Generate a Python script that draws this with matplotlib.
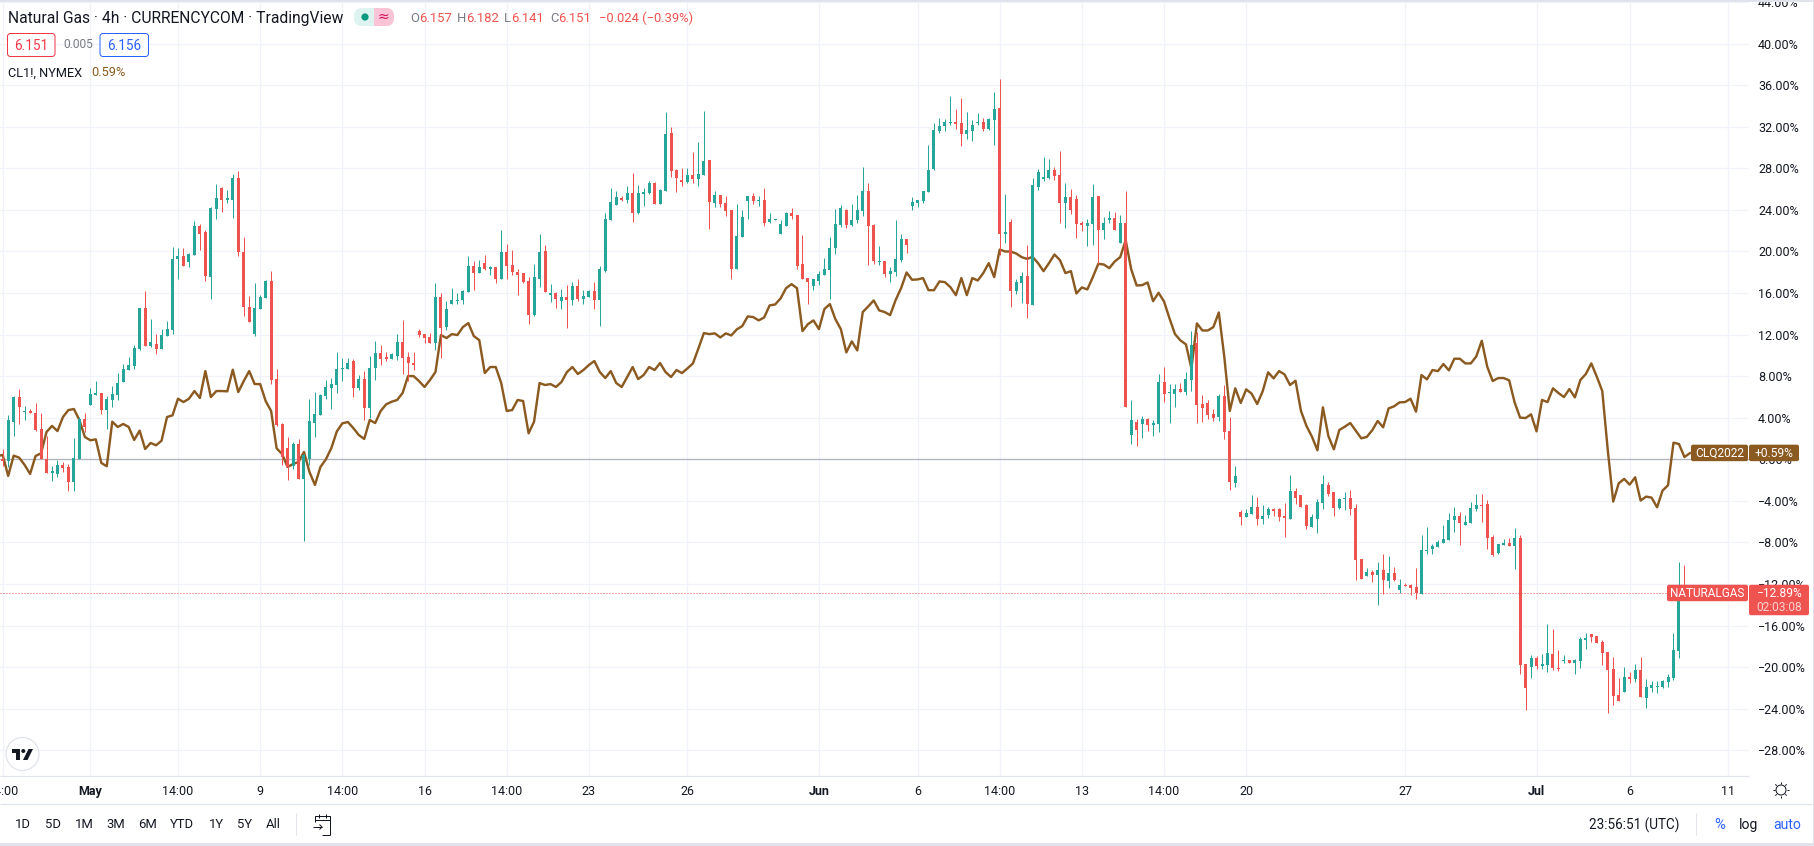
import numpy as np
import matplotlib
matplotlib.use("Agg")
import matplotlib.pyplot as plt
from matplotlib.patches import Rectangle, FancyBboxPatch, Circle, Polygon

# ---------- data (percent change) ----------
direction = ("RGGRGRRRRG" "GRRGGRGGRG" "GGGGGGRGRG" "GGGRGGRRGG" "RGGRRRGGGR"
             "RRRGRGGGGG" "GGGGRGRGGR" "RGGRRRRRRG" "RGGGGGRGRG" "RGRRRRRGGR"
             "GRGRGRGGRG" "GGGRGRGGGR" "GGRRRGRGGR" "GRRRGGGRGR" "GGGGRRRRGG"
             "GGGGRGGGRR" "GRGGGRGGGG" "GGGGRRGGGR" "GGRGRGGRGG" "GGRRGRRRGG"
             "RGGRGRGRGR" "GGRGGRGGRR" "RRGRRGRGGR" "GGRRRGRRRG" "GGRRGGRRRG"
             "RGRGRGRRRG" "GGGGGGRGGG" "RRRGGRGRRG" "RGGRRGRGGG" "RRRRRRGRGR"
             "GGGGGGGR")
body_top = [.03,3.78,5.99,5.99,4.65,4.65,4.46,2.92,.03,-1.12,
 -.54,-.54,-.74,.10,3.88,3.88,6.28,6.38,6.38,5.80,
 6.28,7.34,8.69,9.07,10.71,14.55,14.55,11.28,11.09,11.96,
 12.53,19.26,19.55,19.55,19.74,22.44,22.44,21.86,24.17,25.13,
 26.09,25.13,27.05,27.05,19.94,14.65,14.55,15.61,17.15,17.15,
 7.72,3.40,1.09,1.47,1.47,.42,3.69,4.36,6.19,6.96,
 7.24,8.69,8.78,9.26,9.46,7.72,7.72,8.78,10.22,10.22,
 9.84,10.13,11.28,11.28,9.84,9.26,12.34,12.05,11.76,15.61,
 15.61,14.46,15.32,15.32,16.19,18.59,18.59,18.49,18.88,18.49,
 18.49,19.94,19.94,18.69,18.01,17.92,17.15,17.53,19.94,20.03,
 15.99,15.99,15.61,15.61,16.67,16.67,15.71,16.19,16.19,18.30,
 23.11,24.74,25.22,25.13,25.61,25.61,25.61,25.71,26.57,26.57,
 25.90,31.28,31.38,27.82,26.86,27.34,27.34,27.44,28.69,28.78,
 25.42,25.42,24.65,23.97,21.47,23.30,25.32,25.32,24.94,24.94,
 23.11,23.11,22.63,23.69,23.69,23.49,18.78,17.44,17.34,17.82,
 18.30,20.32,22.63,24.17,23.97,23.01,23.97,25.80,25.80,22.53,
 19.07,19.07,18.11,19.26,21.19,21.19,24.74,24.94,25.80,27.82,
 31.67,32.05,32.44,32.44,32.44,32.34,31.67,32.15,32.44,32.44,
 32.72,33.69,33.78,21.86,22.82,17.05,17.63,17.63,26.38,27.63,
 27.15,27.82,27.82,27.34,25.22,25.22,25.03,22.72,22.72,25.22,
 25.32,22.72,23.21,23.21,22.72,22.72,3.78,3.59,3.88,3.88,
 3.49,7.44,7.44,6.47,6.76,6.76,7.72,10.99,11.19,5.32,
 5.42,4.36,6.09,6.09,2.72,-1.60,-5.06,-5.16,-4.58,-4.58,
 -5.45,-4.78,-4.78,-4.78,-5.45,-3.04,-3.04,-3.43,-4.39,-5.54,
 -4.10,-2.37,-2.47,-3.14,-3.81,-3.72,-3.72,-4.68,-9.58,-10.83,
 -10.83,-10.64,-10.64,-10.93,-10.93,-12.08,-12.08,-12.08,-12.28,-8.72,
 -8.72,-8.33,-7.95,-7.66,-5.83,-5.45,-5.45,-6.03,-4.68,-4.39,
 -4.39,-4.29,-7.47,-8.14,-8.08,-8.04,-7.56,-7.56,-19.68,-19.10,
 -19.10,-19.68,-18.62,-18.72,-20.06,-19.29,-19.29,-19.29,-17.28,-17.18,
 -16.79,-16.99,-17.56,-18.53,-20.16,-22.66,-20.93,-20.93,-20.26,-20.26,
 -21.89,-21.70,-21.79,-21.31,-20.93,-18.33,-12.60,-12.80]
body_bot = [-.16,-.16,3.62,5.06,4.58,4.49,2.82,0,-1.28,-1.28,
 -1.38,-.83,-2.15,-2.15,.03,3.14,5.22,6.19,4.74,4.74,
 5.71,6.19,7.44,8.59,8.97,10.61,10.90,10.90,10.61,10.61,
 11.86,12.44,19.26,18.59,18.97,19.65,21.67,17.63,17.53,24.07,
 24.94,24.94,24.94,19.94,14.65,13.21,12.05,14.46,15.51,7.63,
 3.30,.22,-.74,-.64,-1.89,-1.89,.03,3.49,4.26,6.09,
 6.86,7.15,8.72,8.69,6.86,6.86,4.94,4.94,8.78,9.65,
 9.65,9.65,9.94,9.74,9.26,9.07,11.96,11.67,11.19,11.19,
 12.63,12.72,14.94,15.22,15.32,16.09,17.92,17.92,18.30,18.30,
 17.34,17.34,18.59,18.01,17.72,17.05,13.88,13.88,17.34,16.09,
 15.80,15.42,15.22,15.32,15.32,15.42,15.42,15.61,15.32,15.32,
 18.11,23.01,24.46,24.94,24.94,23.69,23.69,25.51,25.61,24.55,
 24.55,25.80,27.72,27.05,26.70,26.67,26.96,26.96,27.34,24.74,
 24.65,24.55,23.88,18.30,18.30,21.38,24.84,24.84,24.84,22.72,
 22.82,23.04,21.67,22.44,23.40,18.59,17.34,17.05,16.67,17.15,
 17.72,18.21,20.32,22.53,22.53,22.53,23.01,23.88,22.44,19.07,
 18.97,17.82,17.82,18.01,19.17,20.61,24.36,24.65,24.84,25.71,
 27.92,31.57,32.05,32.34,32.24,31.28,31.28,31.57,32.34,31.76,
 31.76,32.63,21.67,21.67,16.19,16.19,16.96,14.94,14.84,26.19,
 26.96,27.05,27.24,24.65,24.65,23.97,22.63,22.53,22.44,22.63,
 22.05,22.05,23.01,22.05,20.80,5.03,2.34,2.82,3.40,3.30,
 3.30,3.40,6.28,6.38,6.28,6.47,6.47,7.63,5.22,4.94,
 4.26,3.97,4.07,2.63,-2.18,-2.28,-5.54,-5.54,-5.26,-5.74,
 -5.74,-5.35,-4.97,-5.54,-5.64,-5.74,-3.72,-4.58,-6.41,-6.51,
 -5.74,-4.20,-3.33,-4.68,-4.68,-3.81,-4.78,-9.68,-11.51,-11.22,
 -11.12,-11.12,-11.60,-11.70,-11.60,-12.56,-12.18,-12.37,-12.85,-12.95,
 -8.81,-8.62,-8.43,-8.04,-7.76,-5.83,-6.12,-6.31,-6.12,-4.78,
 -4.49,-7.56,-9.20,-9.01,-8.24,-8.33,-8.33,-19.78,-21.99,-19.97,
 -19.87,-19.87,-19.78,-20.06,-20.16,-19.39,-19.58,-19.58,-19.39,-17.37,
 -17.08,-17.66,-18.62,-20.26,-22.76,-23.24,-22.37,-21.12,-21.12,-22.85,
 -22.95,-21.99,-21.89,-21.89,-21.41,-21.03,-18.43,-12.89]
wick_high = [.99,4.26,6.09,6.76,5.13,4.84,5.42,4.46,2.24,-.64,
 -.06,-.29,-.45,2.05,4.10,4.46,6.86,7.53,6.38,6.09,
 7.05,8.30,9.17,9.84,10.99,14.55,16.19,13.49,12.05,12.53,
 13.30,20.42,20.32,20.32,19.84,22.92,22.63,22.05,24.26,26.47,
 26.19,25.90,27.44,27.72,21.38,15.71,16.96,15.80,17.24,18.11,
 8.69,3.49,2.15,1.67,1.96,.51,5.80,6.47,6.28,7.63,
 7.82,10.32,9.74,9.74,9.65,8.11,8.49,9.94,11.38,10.99,
 10.32,10.22,12.05,13.40,10.32,10.32,12.53,12.05,12.15,16.96,
 15.99,15.22,16.47,15.99,16.28,19.55,19.07,19.17,19.65,18.59,
 18.49,22.05,20.71,20.13,18.30,17.92,17.53,18.78,21.67,20.61,
 16.86,16.09,16.38,16.76,17.05,17.34,16.28,16.28,17.05,18.59,
 23.69,26.09,25.80,25.32,26.28,27.53,26.38,26.09,26.76,26.67,
 25.99,33.40,31.96,27.92,28.01,28.01,29.55,30.51,33.49,28.78,
 25.80,25.42,25.32,23.97,24.55,23.97,25.32,25.61,25.32,26.09,
 23.69,23.11,23.01,23.78,24.17,23.49,21.57,17.44,17.34,18.11,
 19.36,21.38,24.07,24.46,24.07,24.55,25.42,28.11,26.57,22.63,
 20.51,19.07,18.49,23.01,21.67,21.19,25.22,24.94,25.80,30.22,
 32.34,32.82,32.72,34.94,33.69,34.74,33.40,32.63,33.30,32.82,
 32.82,35.32,36.57,25.51,23.11,17.34,18.01,20.61,27.05,27.92,
 29.07,28.88,28.11,29.65,26.57,25.99,25.42,22.92,23.11,26.47,
 25.32,23.30,23.88,23.78,23.49,25.80,5.71,3.88,4.17,3.97,
 3.78,8.21,8.88,7.24,7.24,7.34,8.40,12.34,12.24,6.19,
 5.71,4.84,6.28,7.15,4.07,-.64,-4.87,-4.78,-3.43,-3.62,
 -4.39,-4.58,-4.68,-4.68,-4.20,-1.51,-2.76,-3.43,-4.29,-5.26,
 -3.81,-1.51,-2.18,-3.14,-3.72,-3.14,-2.95,-4.29,-9.58,-10.45,
 -10.64,-9.87,-9.10,-9.29,-10.35,-11.51,-11.89,-11.99,-10.45,-7.28,
 -6.51,-8.14,-7.76,-6.31,-5.16,-4.58,-5.06,-5.35,-4.10,-3.33,
 -3.33,-3.91,-7.28,-8.14,-7.66,-7.56,-6.60,-7.28,-19.68,-18.81,
 -18.91,-18.72,-15.83,-16.31,-18.33,-18.81,-19.29,-19.20,-17.08,-16.70,
 -16.79,-16.99,-17.37,-18.53,-19.01,-21.03,-19.97,-20.45,-19.68,-19.01,
 -21.12,-21.31,-21.31,-21.22,-20.64,-16.70,-9.87,-10.16]
wick_low = [-.64,-.71,2.28,3.40,3.78,4.42,2.76,0,-1.28,-2.05,
 -1.67,-1.22,-3.04,-3.04,0,2.66,5.22,6.19,4.36,2.92,
 5.03,5.71,7.44,8.59,8.69,10.51,10.90,10.80,10.13,10.61,
 11.86,12.05,17.34,18.59,18.49,19.65,20.13,17.15,15.42,23.11,
 23.78,24.65,23.21,19.55,13.78,13.21,11.86,14.46,15.51,7.24,
 3.21,-.54,-1.99,-.93,-1.89,-7.85,-.54,2.15,4.26,5.80,
 4.84,6.38,7.53,8.69,5.99,6.67,3.78,3.97,7.63,9.07,
 9.46,9.65,9.55,8.21,7.53,8.59,11.76,11.19,11.19,10.51,
 9.74,12.44,14.94,14.94,14.94,16.09,16.28,17.92,18.21,17.72,
 16.96,17.34,17.34,17.72,15.80,16.96,13.01,13.78,16.57,16.09,
 15.13,14.55,14.46,12.63,14.84,15.22,14.94,15.61,14.46,12.82,
 18.01,23.01,24.46,24.84,24.65,22.82,23.59,24.36,25.51,24.55,
 24.55,25.80,27.15,25.71,26.28,26.57,26.57,26.28,27.34,22.15,
 24.26,24.26,23.40,17.34,18.30,21.38,23.11,24.55,24.36,22.44,
 22.72,23.01,21.67,22.44,23.11,18.30,17.34,14.94,16.28,16.76,
 17.72,15.42,19.74,22.34,22.24,22.44,22.72,23.40,18.69,18.78,
 18.69,17.53,17.05,17.63,18.97,19.84,23.97,24.26,24.65,25.71,
 27.82,31.38,31.57,32.15,31.76,30.13,30.80,30.61,32.15,31.57,
 31.67,30.22,19.65,20.80,14.65,15.90,15.03,13.59,14.84,25.90,
 26.76,26.96,26.86,22.72,22.24,23.59,21.28,21.96,20.51,20.61,
 18.78,21.19,22.72,22.05,20.80,5.03,1.47,1.28,2.05,2.72,
 2.24,2.63,5.51,3.49,5.03,6.47,6.19,6.57,3.49,3.59,
 3.88,3.69,3.69,1.96,-2.95,-2.66,-6.31,-5.54,-5.26,-6.31,
 -6.22,-5.64,-5.45,-5.93,-7.47,-5.74,-4.29,-4.58,-6.70,-6.51,
 -7.08,-4.78,-3.53,-5.45,-4.78,-4.87,-5.35,-11.60,-11.51,-11.22,
 -11.79,-14.01,-12.95,-12.37,-11.70,-12.85,-12.18,-13.04,-13.43,-12.95,
 -9.10,-9.10,-8.43,-8.04,-7.76,-6.99,-8.24,-6.31,-6.12,-4.97,
 -6.03,-8.62,-9.29,-9.10,-8.24,-8.33,-10.54,-20.64,-24.10,-21.03,
 -20.16,-20.16,-20.45,-20.26,-20.35,-19.58,-19.58,-20.64,-20.06,-18.24,
 -17.56,-17.66,-19.78,-24.39,-23.62,-23.24,-22.37,-21.51,-21.41,-22.85,
 -23.91,-22.37,-22.47,-21.99,-21.89,-21.22,-19.10,-12.95]
# comparison series, one value per bar, starting one bar before the first candle
cl1 = [.30,.42,-1.60,.35,.16,-.54,-1.41,.32,.58,2.63,3.21,
 2.72,4.07,4.74,4.84,3.78,2.15,1.83,1.92,-.35,-.67,
 3.62,3.11,3.40,3.11,1.86,2.76,.99,1.57,1.35,1.79,
 4.07,4.23,5.83,5.51,5.83,6.57,5.90,8.49,5.99,6.57,
 6.57,6.54,8.62,6.47,7.53,8.49,7.24,7.24,5.61,4.65,
 1.06,.51,-.74,-.45,-.26,.71,-1.22,-2.47,-.74,0,
 1.09,2.69,3.46,3.59,3.01,2.34,1.96,3.78,3.49,4.65,
 5.29,5.54,5.71,6.38,8.01,8.01,7.53,6.96,7.63,8.40,
 11.96,11.67,12.05,11.96,12.72,13.11,11.86,11.47,8.30,8.88,
 8.88,7.34,4.65,4.74,5.71,5.61,2.50,3.62,7.34,7.15,
 7.24,6.96,7.44,8.40,8.88,8.21,8.59,9.07,9.46,8.40,
 7.82,8.49,7.34,6.96,7.92,8.88,7.72,8.11,8.88,8.59,
 9.26,8.40,7.92,8.59,8.30,8.75,9.23,10.67,12.15,12.05,
 12.12,11.73,12.12,11.92,12.50,12.82,13.75,13.69,13.37,13.65,
 14.81,14.90,15.48,16.47,16.86,16.47,12.34,13.01,13.37,12.53,
 14.46,14.94,13.49,12.53,10.29,11.35,10.48,14.17,14.71,15.29,
 14.33,14.17,13.88,15.32,16.47,17.98,17.28,17.31,17.44,16.28,
 16.28,17.12,17.05,16.57,15.80,17.44,15.80,17.44,17.21,17.92,
 18.88,17.53,20.19,20.0,20.0,19.81,19.46,19.29,19.49,18.88,
 18.11,18.88,19.71,19.17,17.92,18.11,15.96,16.54,16.35,17.53,
 18.81,18.75,18.40,19.04,19.46,21.09,18.30,16.73,16.76,17.02,
 15.22,16.03,15.19,13.56,12.05,11.44,11.06,8.75,13.08,12.40,
 12.40,12.72,14.13,9.87,4.65,6.83,5.42,6.73,6.31,5.32,
 6.54,8.37,7.79,8.49,8.17,7.15,7.56,4.65,3.21,2.18,
 .87,5.0,2.24,.96,2.82,3.14,3.49,2.76,2.02,2.15,
 2.79,3.69,3.08,4.90,5.10,5.48,5.51,5.83,4.58,8.11,
 7.69,8.59,8.49,9.17,8.56,9.68,9.68,9.23,9.23,9.90,
 11.41,8.91,7.53,7.82,7.82,7.60,5.48,4.01,3.97,4.33,
 2.69,5.71,5.51,6.83,6.38,5.99,6.76,5.96,7.63,8.21,
 9.23,7.95,6.57,.90,-4.07,-2.31,-1.89,-2.44,-1.73,-3.97,
 -3.59,-3.69,-4.62,-3.01,-2.50,1.60,1.47,.22,.59]
y_ticks = list(range(-28, 48, 4))
time_ticks = [0, 16, 32, 47, 62, 77, 92, 107, 125, 149, 167, 182, 197, 212, 227, 256, 280, 297, 315]
time_labels = ["14:00", "May", "14:00", "9", "14:00", "16", "14:00", "23", "26", "Jun",
               "6", "14:00", "13", "14:00", "20", "27", "Jul", "6", "11"]
last_close = -12.89
last_cl = 0.59

# ---------- styling ----------
W, H = 1814, 846
UP, DOWN, BROWN = "#26a69a", "#ef5350", "#8b5a20"
GRID, BORDER, INK, GREY = "#f0f3fa", "#e0e3eb", "#131722", "#787b86"
BLUE = "#2962ff"
FONT = "Roboto"
PX = 0.72
plt.rcParams["font.family"] = [FONT, "DejaVu Sans"]
plt.rcParams["axes.unicode_minus"] = True

fig = plt.figure(figsize=(W / 100, H / 100), dpi=100, facecolor="white")
PLOT_R, PLOT_B = 1749, 776
ax = fig.add_axes([0, 1 - PLOT_B / H, PLOT_R / W, PLOT_B / H])
ax.set_facecolor("white")

# scale: bars are 5.478 px apart, first at 2.7 px; 1% = 10.39 px, 0% at 459.3 px
ax.set_xlim(-2.7 / 5.478, (PLOT_R - 2.7) / 5.478)
ax.set_ylim((459.3 - PLOT_B) / 10.39, 459.3 / 10.39)
for s in ax.spines.values():
    s.set_visible(False)

n = len(body_top)
idx = np.arange(n)
top, bot, hi, lo = map(np.array, (body_top, body_bot, wick_high, wick_low))
colors = [UP if d == "G" else DOWN for d in direction]

ax.set_axisbelow(True)
ax.set_xticks(time_ticks, time_labels)
ax.set_yticks(y_ticks, [f"{v:.2f}%".replace("-", "\u2212") for v in y_ticks])
ax.yaxis.tick_right()
ax.grid(True, color=GRID, lw=PX * 1.2, zorder=0)
ax.tick_params(axis="x", length=0, pad=6.5, labelsize=9.0, labelcolor=INK)
ax.tick_params(axis="y", length=0, pad=6.5, labelsize=9.0, labelcolor=INK)
for lab, txt_ in zip(ax.get_xticklabels(), time_labels):
    if txt_ in ("May", "Jun", "Jul"):
        lab.set_fontweight("bold")
    lab.set_clip_on(False)

ax.axhline(0, color="#b2b5be", lw=PX * 1.3, zorder=1)
ax.axhline(last_close, color=DOWN, lw=PX, ls=(0, (1, 2)), zorder=1.5)
ax.plot(np.arange(-1, len(cl1) - 1), cl1, color=BROWN, lw=PX * 2.4, zorder=2,
        solid_joinstyle="round")
ax.vlines(idx, lo, hi, colors=colors, lw=PX, zorder=3)
ax.bar(idx, np.maximum(top - bot, 0.05), bottom=bot, width=3.0 / 5.478,
       color=colors, linewidth=0, zorder=3.5)

# ---------- chrome overlay in pixel coordinates ----------
ui = fig.add_axes([0, 0, 1, 1], zorder=10)
ui.set_xlim(0, W)
ui.set_ylim(H, 0)
ui.axis("off")
ui.patch.set_alpha(0)


def txt(x, y, s, size=12, color=INK, ha="left", weight="normal", **kw):
    return ui.text(x, y, s, fontsize=size * PX, color=color, ha=ha, va="center",
                   fontweight=weight, **kw)


def line(xs, ys, color=BORDER, w=1.0):
    ui.plot(xs, ys, color=color, lw=w * PX, solid_capstyle="butt")


def box(x0, y0, x1, y1, face, edge=None, r=2.0, lw=1.0):
    ui.add_patch(FancyBboxPatch((x0 + r, y0 + r), x1 - x0 - 2 * r, y1 - y0 - 2 * r,
                                boxstyle=f"round,pad={r},rounding_size={r}",
                                fc=face, ec=edge or "none", lw=lw * PX))


# frame
ui.add_patch(Rectangle((0, 0), W, 1.6, fc=BORDER, ec="none"))
ui.add_patch(Rectangle((0, 843), W, 3, fc=BORDER, ec="none"))
ui.add_patch(Rectangle((1812.5, 0), 1.5, H, fc=BORDER, ec="none"))
line([0, PLOT_R], [776, 776], w=1.2)
line([0, 1813], [804, 804], w=1.2)

# legend rows
txt(8, 18, "Natural Gas \u00b7 4h \u00b7 CURRENCYCOM \u00b7 TradingView", size=15.6)
box(354, 8, 394, 26, "#dcf3ef", r=8)
box(374, 8, 394, 26, "#fbc4d6", r=8)
ui.add_patch(Rectangle((374, 8), 8, 18, fc="#fbc4d6", ec="none"))
ui.add_patch(Circle((365, 17), 3.6, fc="#089981", ec="none"))
txt(383, 17, "\u2248", size=14, color="#d6115d", ha="center", family=["DejaVu Sans"])
x = 410
for s, c, adv in [("O", GREY, 9), ("6.157", DOWN, 38), ("H", GREY, 9), ("6.182", DOWN, 38),
                  ("L", GREY, 7), ("6.141", DOWN, 39), ("C", GREY, 8), ("6.151", DOWN, 41),
                  ("\u22120.024 (\u22120.39%)", DOWN, 0)]:
    txt(x, 18, s, size=13, color=c)
    x += adv
box(7.5, 33.5, 55, 56.5, "white", edge="#f23645", r=3)
txt(31, 45.5, "6.151", size=13.5, color="#f23645", ha="center")
txt(78, 45, "0.005", size=12, color=GREY, ha="center")
box(100, 33.5, 148.5, 56.5, "white", edge=BLUE, r=3)
txt(124.5, 45.5, "6.156", size=13.5, color=BLUE, ha="center")
txt(8, 73, "CL1!, NYMEX", size=12.8)
txt(91.5, 73, "0.59%", size=12.8, color=BROWN)

# price labels
py_cl = 459.3 - last_cl * 10.39
py_ng = 459.3 - last_close * 10.39
box(1691, py_cl - 8.5, 1748, py_cl + 8, BROWN, r=2)
box(1749, py_cl - 8.5, 1799, py_cl + 8, BROWN, r=2)
txt(1719.5, py_cl, "CLQ2022", size=12, color="white", ha="center")
txt(1774, py_cl, f"+{last_cl:.2f}%", size=12, color="white", ha="center")
box(1667, py_ng - 8.5, 1748, py_ng + 8, DOWN, r=2)
box(1749, py_ng - 8.5, 1809, py_ng + 22, DOWN, r=2)
txt(1707.5, py_ng, "NATURALGAS", size=11.8, color="white", ha="center")
txt(1779, py_ng, "\u221212.89%", size=12, color="white", ha="center")
txt(1779, py_ng + 14, "02:03:08", size=12, color="#fbd0cf", ha="center")

# TradingView badge
ui.add_patch(Circle((22.5, 754), 16.5, fc="white", ec=BORDER, lw=1.2 * PX))
ui.add_patch(Polygon([(11.5, 749), (20, 749), (20, 760), (16, 760), (16, 753), (11.5, 753)],
                     fc=INK, ec="none"))
ui.add_patch(Circle((23.3, 751), 2, fc=INK, ec="none"))
ui.add_patch(Polygon([(28.5, 749), (33, 749), (27.5, 760), (23, 760)], fc=INK, ec="none"))

# bottom toolbar
for cx, s in zip([23, 53, 84, 116, 147.5, 182.5, 216, 244.5, 273],
                 ["1D", "5D", "1M", "3M", "6M", "YTD", "1Y", "5Y", "All"]):
    txt(cx, 824.5, s, size=13, ha="center")
line([296, 296], [813, 835], w=1)
# go-to-date icon
line([315, 315, 330, 330], [822, 816, 816, 835], color=INK)
line([322, 330], [835, 835], color=INK)
line([315, 330], [820.5, 820.5], color=INK)
line([319, 319], [814, 818], color=INK)
line([326, 326], [814, 818], color=INK)
line([313, 322], [827, 827], color=INK)
line([319.5, 322, 319.5], [824.5, 827, 829.5], color=INK)
txt(1679, 825, "23:56:51 (UTC)", size=13.5, ha="right")
line([1696, 1696], [813, 835], w=1)
txt(1720, 825, "%", size=15, color=BLUE, ha="center")
txt(1749, 825, "log", size=14, ha="center")
txt(1787, 825, "auto", size=14, color=BLUE, ha="center")
# theme icon
ui.add_patch(Circle((1781, 790), 5, fc="white", ec=INK, lw=PX))
for a in np.arange(0, 2 * np.pi, np.pi / 4):
    line([1781 + 6 * np.cos(a), 1781 + 8 * np.cos(a)],
         [790 + 6 * np.sin(a), 790 + 8 * np.sin(a)], color=INK)

fig.savefig("out.png", dpi=100, facecolor="white")
